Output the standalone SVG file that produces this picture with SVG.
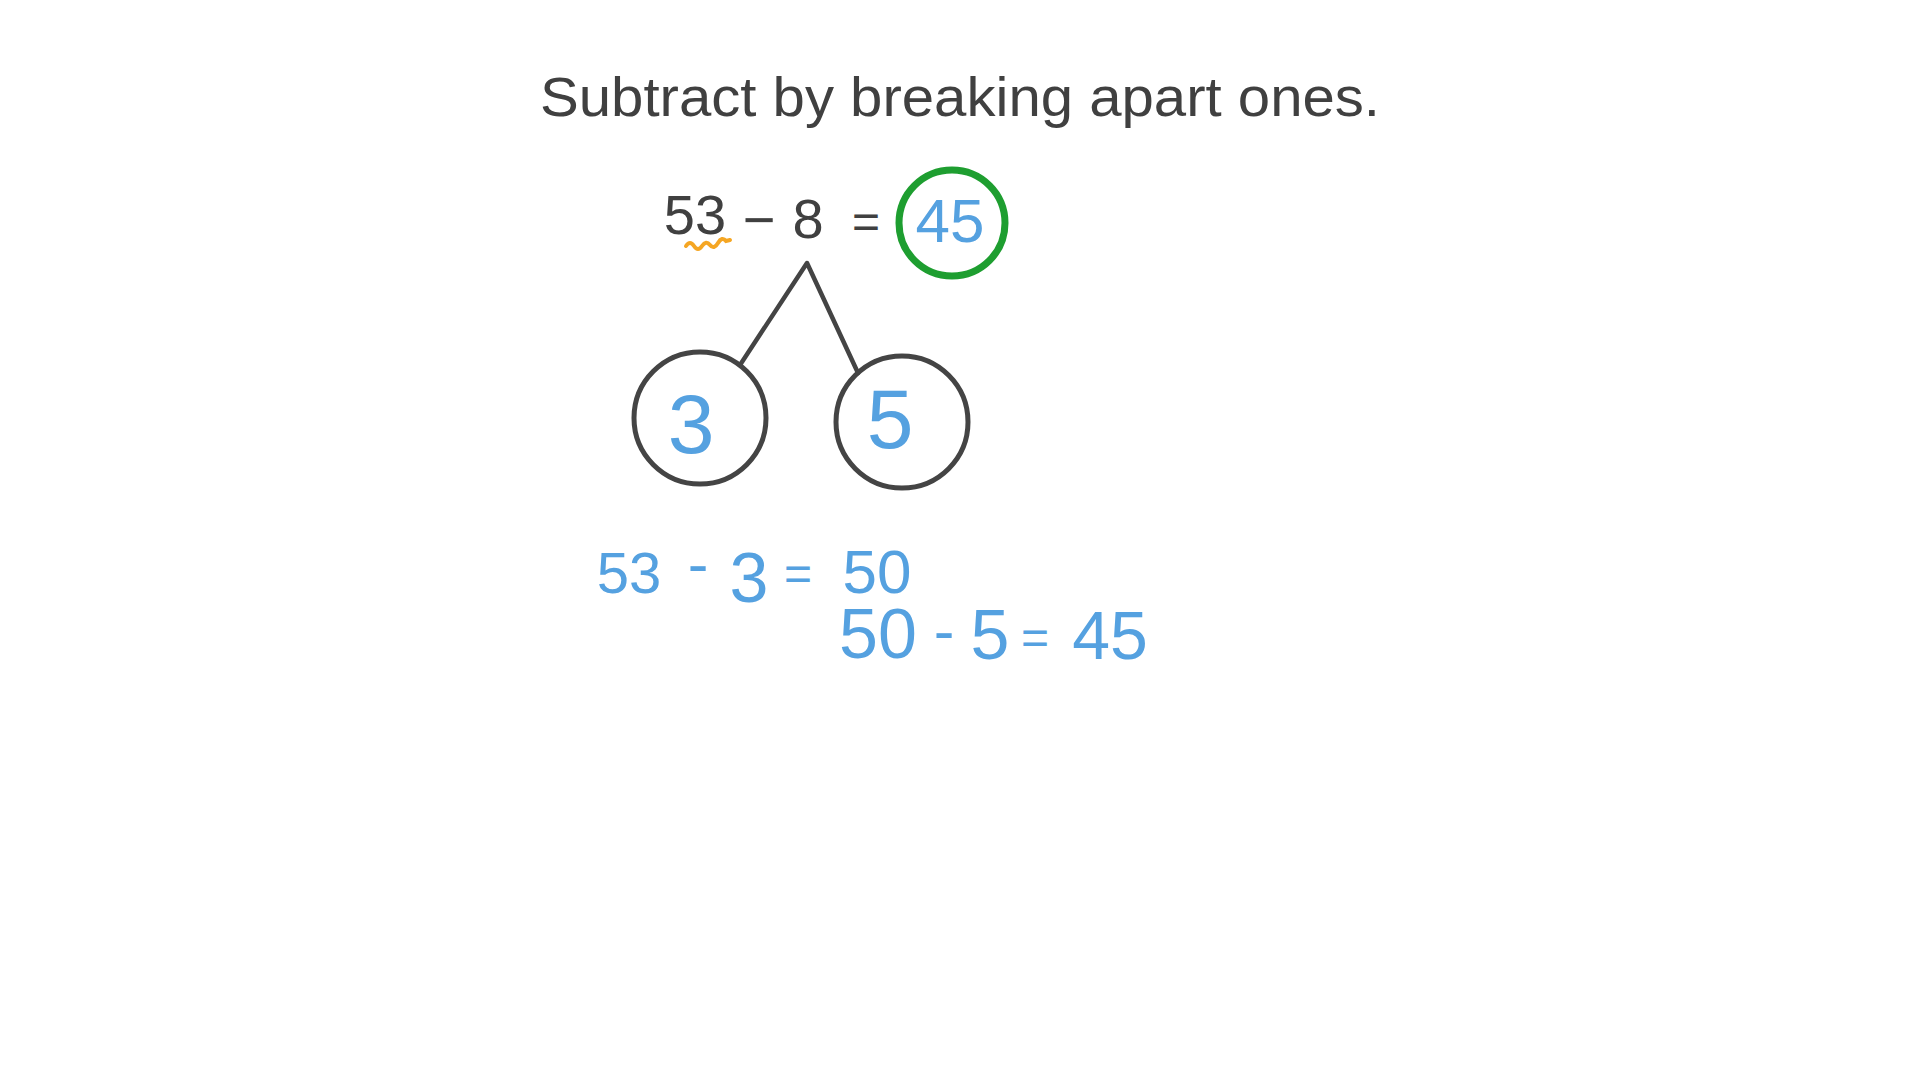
<svg xmlns="http://www.w3.org/2000/svg" width="1920" height="1080" viewBox="0 0 1920 1080">
  <style>
    .dk { fill: #404040; font-family: "Liberation Sans", Arial, sans-serif; }
    .bl { fill: #55a1e0; font-family: "Liberation Sans", Arial, sans-serif; }
    .ring { fill: none; stroke: #444444; stroke-width: 5; }
    .conn { fill: none; stroke: #444444; stroke-width: 4.5; stroke-linecap: round; stroke-linejoin: round; }
  </style>
  <rect width="1920" height="1080" fill="#ffffff"/>

  <g id="title">
    <text class="dk" x="540" y="116" font-size="56" textLength="840" lengthAdjust="spacingAndGlyphs">Subtract by breaking apart ones.</text>
  </g>

  <g id="equation" text-anchor="middle">
    <text class="dk" x="695" y="234" font-size="56">53</text>
    <text class="dk" x="759" y="239" font-size="56">−</text>
    <text class="dk" x="808" y="238" font-size="56">8</text>
    <text class="dk" x="866" y="238" font-size="48">=</text>
    <path d="M686,246 Q690,240 694,246 T702,246 T710,245 T718,243 T726,241 L730,240" fill="none" stroke="#f5a623" stroke-width="4" stroke-linecap="round"/>
  </g>

  <g id="answer">
    <circle cx="952" cy="223" r="53" fill="none" stroke="#1e9e30" stroke-width="7"/>
    <text class="bl" x="950" y="242" font-size="62" text-anchor="middle">45</text>
  </g>

  <g id="connectors">
    <polyline class="conn" points="740,365 807,263 858,373"/>
  </g>

  <g id="node-3">
    <circle class="ring" cx="700" cy="418" r="66"/>
    <text class="bl" x="691" y="453" font-size="84" text-anchor="middle">3</text>
  </g>

  <g id="node-5">
    <circle class="ring" cx="902" cy="422" r="66"/>
    <text class="bl" x="890" y="448" font-size="84" text-anchor="middle">5</text>
  </g>

  <g id="steps" text-anchor="middle">
    <text class="bl" x="629" y="593" font-size="58">53</text>
    <text class="bl" x="698" y="585" font-size="62">-</text>
    <text class="bl" x="749" y="602" font-size="70">3</text>
    <text class="bl" x="798" y="590" font-size="48">=</text>
    <text class="bl" x="877" y="593" font-size="62">50</text>

    <text class="bl" x="878" y="658" font-size="70">50</text>
    <text class="bl" x="944" y="652" font-size="62">-</text>
    <text class="bl" x="990" y="659" font-size="70">5</text>
    <text class="bl" x="1035" y="654" font-size="48">=</text>
    <text class="bl" x="1110" y="659" font-size="68">45</text>
  </g>
</svg>
